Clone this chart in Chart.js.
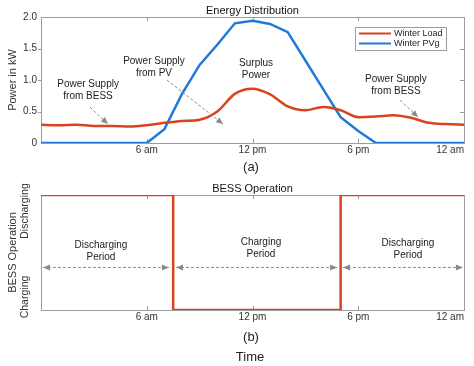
<!DOCTYPE html>
<html>
<head>
<meta charset="utf-8">
<script src="https://cdn.jsdelivr.net/npm/chart.js@4.4.1/dist/chart.umd.min.js"></script>
<style>
  body { margin: 0; background: #fff; font-family: "Liberation Sans", Arial, sans-serif; }
  #lienzo { position: relative; width: 474px; height: 366px; overflow: hidden; }
  .caja { position: absolute; left: 0; width: 474px; }
  .rotulo { position: absolute; color: #222; line-height: 16px; transform: translateX(-50%); white-space: nowrap; }
</style>
</head>
<body>
<div id="lienzo">
  <div class="caja" style="top:0;height:160px"><canvas id="graficoEnergia"></canvas></div>
  <div class="caja" style="top:172px;height:166px"><canvas id="graficoBess"></canvas></div>
  <div class="rotulo" style="left:251px;top:159px;font-size:13px">(a)</div>
  <div class="rotulo" style="left:251px;top:329px;font-size:13px">(b)</div>
  <div class="rotulo" style="left:250px;top:349px;font-size:13px">Time</div>
</div>
<script>
// Datos (hora del dia 0..24)
const horas = [0,1,2,3,4,5,6,7,8,9,10,11,12,13,14,15,16,17,18,19,20,21,22,23,24];
const cargaInvierno = [0.29,0.28,0.29,0.27,0.27,0.26,0.28,0.32,0.35,0.37,0.50,0.78,0.86,0.77,0.58,0.52,0.57,0.52,0.41,0.42,0.44,0.40,0.32,0.30,0.29];
const pvInvierno = [0,0,0,0,0,0,0,0.22,0.78,1.24,1.56,1.90,1.94,1.89,1.76,1.31,0.86,0.41,0.19,0,0,0,0,0,0];
const etiquetasHora = ['', '6 am', '12 pm', '6 pm', '12 am'];
const etiquetasPotencia = ['0', '0.5', '1.0', '1.5', '2.0'];

// Operacion BESS: 1 = descarga, 0 = carga
const bessHoras = [0, 7.5, 17, 24];
const bessEstado = [1, 0, 1, 1];

const ROJO = '#d9431e';
const AZUL = '#1f7ad9';
const FUENTE = '"Liberation Sans", Arial, sans-serif';

function flecha(ctx, x1, y1, x2, y2, doble) {
  ctx.save();
  ctx.strokeStyle = '#8a8a8a';
  ctx.fillStyle = '#8a8a8a';
  ctx.lineWidth = 1;
  ctx.setLineDash([3, 2]);
  ctx.beginPath();
  ctx.moveTo(x1, y1);
  ctx.lineTo(x2, y2);
  ctx.stroke();
  ctx.setLineDash([]);
  const punta = (xa, ya, xb, yb) => {
    const ang = Math.atan2(yb - ya, xb - xa);
    ctx.beginPath();
    ctx.moveTo(xb, yb);
    ctx.lineTo(xb - 7 * Math.cos(ang) + 3 * Math.sin(ang), yb - 7 * Math.sin(ang) - 3 * Math.cos(ang));
    ctx.lineTo(xb - 7 * Math.cos(ang) - 3 * Math.sin(ang), yb - 7 * Math.sin(ang) + 3 * Math.cos(ang));
    ctx.closePath();
    ctx.fill();
  };
  punta(x1, y1, x2, y2);
  if (doble) punta(x2, y2, x1, y1);
  ctx.restore();
}

const marcoPlugin = {
  id: 'marco',
  beforeDraw(chart) {
    // la ultima etiqueta del eje x queda alineada a la derecha, como en el original
    const items = chart.scales.x.getLabelItems();
    if (items.length) items[items.length - 1].options.textAlign = 'right';
  },
  beforeDatasetsDraw(chart, args, opts) {
    const {ctx, chartArea: a, scales: {x, y}} = chart;
    ctx.save();
    ctx.strokeStyle = '#9c9c9c';
    ctx.lineWidth = 1;
    ctx.strokeRect(a.left + 0.5, a.top + 0.5, a.right - a.left, a.bottom - a.top);
    ctx.beginPath();
    x.ticks.forEach(t => {
      if (t.value <= x.min || t.value >= x.max) return;
      const px = Math.round(x.getPixelForValue(t.value)) + 0.5;
      ctx.moveTo(px, a.bottom); ctx.lineTo(px, a.bottom - 4);
      ctx.moveTo(px, a.top); ctx.lineTo(px, a.top + 4);
    });
    if (opts.marcasY) {
      y.ticks.forEach(t => {
        if (t.value <= y.min || t.value >= y.max) return;
        const py = Math.round(y.getPixelForValue(t.value)) + 0.5;
        ctx.moveTo(a.left - 3, py); ctx.lineTo(a.left, py);
        ctx.moveTo(a.right, py); ctx.lineTo(a.right - 4, py);
      });
    }
    ctx.stroke();
    ctx.restore();
  },
  afterDraw(chart, args, opts) {
    const {ctx, chartArea: a, scales: {x, y}} = chart;
    ctx.save();
    // titulo
    ctx.fillStyle = '#111';
    ctx.font = '11px ' + FUENTE;
    ctx.textAlign = 'center';
    ctx.textBaseline = 'middle';
    ctx.fillText(opts.titulo, (a.left + a.right) / 2, a.top - 6);
    // textos
    ctx.fillStyle = '#222';
    ctx.font = '10px ' + FUENTE;
    (opts.textos || []).forEach(t => {
      const px = x.getPixelForValue(t.x), py = y.getPixelForValue(t.y);
      const n = t.lineas.length;
      t.lineas.forEach((l, i) => ctx.fillText(l, px, py + (i - (n - 1) / 2) * 12));
    });
    (opts.flechas || []).forEach(f => {
      flecha(ctx, x.getPixelForValue(f[0]), y.getPixelForValue(f[1]),
        x.getPixelForValue(f[2]), y.getPixelForValue(f[3]), f[4]);
    });
    // etiquetas rotadas en eje y
    (opts.lateral || []).forEach(l => {
      ctx.save();
      ctx.translate(a.left - 16, y.getPixelForValue(l.v) + l.dy);
      ctx.rotate(-Math.PI / 2);
      ctx.font = '10.5px ' + FUENTE;
      ctx.fillStyle = '#333';
      ctx.fillText(l.texto, 0, 0);
      ctx.restore();
    });
    // leyenda dentro del area
    if (opts.leyenda) {
      const lx = a.right - 109, ly = a.top + 10, w = 91, h = 23;
      ctx.fillStyle = '#fff';
      ctx.fillRect(lx, ly, w, h);
      ctx.strokeStyle = '#9c9c9c';
      ctx.lineWidth = 1;
      ctx.strokeRect(lx + 0.5, ly + 0.5, w, h);
      ctx.font = '9px ' + FUENTE;
      ctx.textAlign = 'left';
      chart.data.datasets.forEach((ds, i) => {
        const yy = ly + 6.5 + i * 10;
        ctx.strokeStyle = ds.borderColor;
        ctx.lineWidth = 2;
        ctx.beginPath();
        ctx.moveTo(lx + 4, yy); ctx.lineTo(lx + 36, yy);
        ctx.stroke();
        ctx.fillStyle = '#222';
        ctx.fillText(ds.label, lx + 39, yy);
      });
    }
    ctx.restore();
  }
};

const ejeX = {
  type: 'linear', min: 0, max: 24,
  grid: { display: false, drawTicks: false },
  border: { display: false },
  ticks: {
    stepSize: 6, padding: 1, autoSkip: false, maxRotation: 0,
    color: '#333', font: { size: 10, family: FUENTE },
    callback: v => etiquetasHora[v / 6]
  },
  afterFit: s => { s.height = 17; s.paddingLeft = 0; s.paddingRight = 0; }
};

let energia = document.getElementById('graficoEnergia').getContext('2d');
let graficoEnergia = new Chart(energia, {
  type: 'line',
  data: {
    datasets: [{
      label: 'Winter Load',
      data: horas.map((h, i) => ({x: h, y: cargaInvierno[i]})),
      borderColor: ROJO,
      borderWidth: 2.5,
      pointRadius: 0,
      cubicInterpolationMode: 'monotone'
    },
    {
      label: 'Winter PVg',
      data: horas.map((h, i) => ({x: h, y: pvInvierno[i]})),
      borderColor: AZUL,
      borderWidth: 2.5,
      pointRadius: 0,
      tension: 0
    }]
  },
  options: {
    responsive: true,
    maintainAspectRatio: false,
    animation: false,
    layout: { padding: { top: 17, right: 10, bottom: 0, left: 0 } },
    plugins: {
      legend: { display: false },
      tooltip: { enabled: false },
      marco: {
        titulo: 'Energy Distribution',
        marcasY: true,
        leyenda: true,
        textos: [
          {x: 2.67, y: 0.83, lineas: ['Power Supply', 'from BESS']},
          {x: 6.41, y: 1.21, lineas: ['Power Supply', 'from PV']},
          {x: 12.2, y: 1.17, lineas: ['Surplus', 'Power']},
          {x: 20.14, y: 0.91, lineas: ['Power Supply', 'from BESS']}
        ],
        flechas: [
          [2.78, 0.57, 3.8, 0.30, false],
          [7.15, 1.0, 10.33, 0.30, false],
          [20.37, 0.68, 21.4, 0.41, false]
        ]
      }
    },
    scales: {
      x: ejeX,
      y: {
        min: 0, max: 2,
        grid: { display: false, drawTicks: false },
        border: { display: false },
        ticks: {
          stepSize: 0.5, padding: 4, color: '#333',
          font: { size: 10, family: FUENTE },
          callback: v => etiquetasPotencia[Math.round(v * 2)]
        },
        title: {
          display: true, text: 'Power in kW', color: '#333',
          font: { size: 11, family: FUENTE }, padding: { top: 6, bottom: 0 }
        },
        afterFit: s => { s.width = 41; }
      }
    }
  },
  plugins: [marcoPlugin]
});

let bess = document.getElementById('graficoBess').getContext('2d');
let graficoBess = new Chart(bess, {
  type: 'line',
  data: {
    datasets: [{
      label: 'BESS Operation',
      data: bessHoras.map((h, i) => ({x: h, y: bessEstado[i]})),
      borderColor: ROJO,
      borderWidth: 2.5,
      pointRadius: 0,
      stepped: 'before'
    }]
  },
  options: {
    responsive: true,
    maintainAspectRatio: false,
    animation: false,
    layout: { padding: { top: 23, right: 10, bottom: 11, left: 0 } },
    plugins: {
      legend: { display: false },
      tooltip: { enabled: false },
      marco: {
        titulo: 'BESS Operation',
        marcasY: false,
        leyenda: false,
        textos: [
          {x: 3.4, y: 0.51, lineas: ['Discharging', 'Period']},
          {x: 12.48, y: 0.54, lineas: ['Charging', 'Period']},
          {x: 20.82, y: 0.53, lineas: ['Discharging', 'Period']}
        ],
        flechas: [
          [0.11, 0.37, 7.26, 0.37, true],
          [7.66, 0.37, 16.8, 0.37, true],
          [17.13, 0.37, 23.94, 0.37, true]
        ],
        lateral: [
          {texto: 'Discharging', v: 1, dy: 16},
          {texto: 'Charging', v: 0, dy: -13}
        ]
      }
    },
    scales: {
      x: ejeX,
      y: {
        min: 0, max: 1,
        grid: { display: false, drawTicks: false },
        border: { display: false },
        ticks: { display: false },
        title: {
          display: true, text: 'BESS Operation', color: '#333',
          font: { size: 11, family: FUENTE }, padding: { top: 6, bottom: 0 }
        },
        afterFit: s => { s.width = 41; }
      }
    }
  },
  plugins: [marcoPlugin]
});
</script>
</body>
</html>
